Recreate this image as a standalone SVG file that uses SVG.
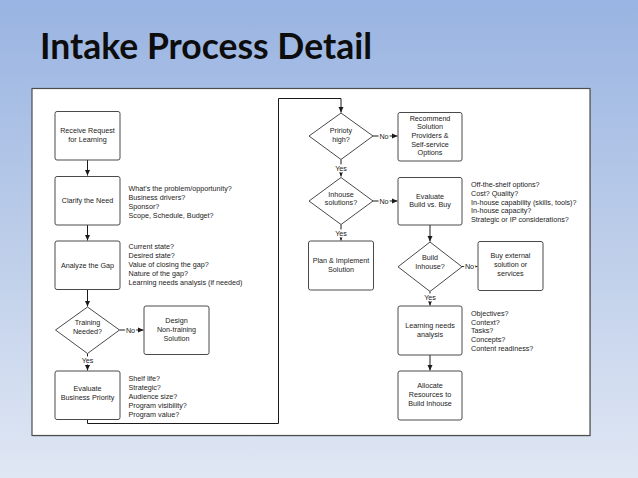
<svg xmlns="http://www.w3.org/2000/svg" width="638" height="478" viewBox="0 0 638 478">
<defs>
<linearGradient id="bg" x1="0" y1="0" x2="0" y2="1">
<stop offset="0" stop-color="#99b4e2"/>
<stop offset="0.5" stop-color="#bccde9"/>
<stop offset="1" stop-color="#e0e7f4"/>
</linearGradient>
<marker id="ah" markerUnits="userSpaceOnUse" markerWidth="6" markerHeight="6" refX="5.5" refY="3" orient="auto">
<path d="M0,0.5 L5.5,3 L0,5.5 z" fill="#1a1a1a"/>
</marker>
<style>
.box{fill:#fff;stroke:#4a4a4a;stroke-width:1}
.t{font-family:"Liberation Sans",Arial,sans-serif;font-size:7.2px;fill:#222}
.c{text-anchor:middle}
.lbl{font-family:"Liberation Sans",Arial,sans-serif;font-size:7.2px;fill:#222;text-anchor:middle;stroke:#fff;stroke-width:3;paint-order:stroke}
.ln{fill:none;stroke:#1a1a1a;stroke-width:1}
</style>
</defs>
<rect x="0" y="0" width="638" height="478" fill="url(#bg)"/>
<text x="40" y="59" font-family="Lato,'Open Sans',sans-serif" font-weight="bold" font-size="36" fill="#0d0d0d" textLength="332" lengthAdjust="spacingAndGlyphs">Intake Process Detail</text>
<rect x="33" y="89.5" width="558" height="347" fill="#8a8fa0" opacity="0.35"/>
<rect x="32" y="88.5" width="558" height="347" fill="#fff" stroke="#4d4d4d" stroke-width="1.2"/>

<g id="connectors">
<path class="ln" d="M87.5,160 V175.5" marker-end="url(#ah)"/>
<path class="ln" d="M87.5,225 V240.5" marker-end="url(#ah)"/>
<path class="ln" d="M87.5,289.5 V306.5" marker-end="url(#ah)"/>
<path class="ln" d="M119.5,330 H143.5" marker-end="url(#ah)"/>
<path class="ln" d="M87.5,353.5 V370.5" marker-end="url(#ah)"/>
<path class="ln" d="M87.5,419.5 V423.5 H278.5 V98.5 H341 V112.5" marker-end="url(#ah)"/>
<path class="ln" d="M373,136 H397.5" marker-end="url(#ah)"/>
<path class="ln" d="M341,159.5 V176.5" marker-end="url(#ah)"/>
<path class="ln" d="M373,201 H397.5" marker-end="url(#ah)"/>
<path class="ln" d="M341,224.5 V240.5" marker-end="url(#ah)"/>
<path class="ln" d="M430,225 V241.5" marker-end="url(#ah)"/>
<path class="ln" d="M462,266.5 H477.5" marker-end="url(#ah)"/>
<path class="ln" d="M430,291.5 V305.5" marker-end="url(#ah)"/>
<path class="ln" d="M430,355 V370.5" marker-end="url(#ah)"/>
<text class="lbl" x="130.5" y="332.5">No</text>
<text class="lbl" x="87.5" y="363">Yes</text>
<text class="lbl" x="384" y="138.5">No</text>
<text class="lbl" x="341" y="170.5">Yes</text>
<text class="lbl" x="384" y="203.5">No</text>
<text class="lbl" x="341" y="235.5">Yes</text>
<text class="lbl" x="469.5" y="269">No</text>
<text class="lbl" x="430" y="299.5">Yes</text>
</g>

<g id="receive">
<rect class="box" x="55" y="111.5" width="65" height="48.5" rx="2"/>
<text class="t c" x="87.5" y="133">Receive Request</text>
<text class="t c" x="87.5" y="142">for Learning</text>
</g>
<g id="clarify">
<rect class="box" x="55" y="176.5" width="65" height="48.5" rx="2"/>
<text class="t c" x="87.5" y="202.5">Clarify the Need</text>
<text class="t" x="128.5" y="190.5">What's the problem/opportunity?</text>
<text class="t" x="128.5" y="199.5">Business drivers?</text>
<text class="t" x="128.5" y="208.5">Sponsor?</text>
<text class="t" x="128.5" y="217.5">Scope, Schedule, Budget?</text>
</g>
<g id="analyze">
<rect class="box" x="55" y="241" width="65" height="48.5" rx="2"/>
<text class="t c" x="87.5" y="267.5">Analyze the Gap</text>
<text class="t" x="128.5" y="248.5">Current state?</text>
<text class="t" x="128.5" y="257.5">Desired state?</text>
<text class="t" x="128.5" y="266.5">Value of closing the gap?</text>
<text class="t" x="128.5" y="275.5">Nature of the gap?</text>
<text class="t" x="128.5" y="284.5">Learning needs analysis (if needed)</text>
</g>
<g id="training">
<polygon class="box" points="87.5,307 119.5,330 87.5,353.5 55.5,330"/>
<text class="t c" x="87.5" y="324.5">Training</text>
<text class="t c" x="87.5" y="333.5">Needed?</text>
</g>
<g id="design">
<rect class="box" x="144" y="306" width="65" height="48.5" rx="2"/>
<text class="t c" x="176.5" y="322.5">Design</text>
<text class="t c" x="176.5" y="331.5">Non-training</text>
<text class="t c" x="176.5" y="340.5">Solution</text>
</g>
<g id="evaluate-priority">
<rect class="box" x="55" y="371" width="65" height="48.5" rx="2"/>
<text class="t c" x="87.5" y="390.5">Evaluate</text>
<text class="t c" x="87.5" y="399.5">Business Priority</text>
<text class="t" x="128.5" y="380.5">Shelf life?</text>
<text class="t" x="128.5" y="389.5">Strategic?</text>
<text class="t" x="128.5" y="398.5">Audience size?</text>
<text class="t" x="128.5" y="407.5">Program visibility?</text>
<text class="t" x="128.5" y="416.5">Program value?</text>
</g>

<g id="priority">
<polygon class="box" points="341,113 373,136 341,159.5 309,136"/>
<text class="t c" x="341" y="133">Pririoty</text>
<text class="t c" x="341" y="142">high?</text>
</g>
<g id="recommend">
<rect class="box" x="398" y="112.5" width="64" height="48.5" rx="2"/>
<text class="t c" x="430" y="120.5">Recommend</text>
<text class="t c" x="430" y="129.2">Solution</text>
<text class="t c" x="430" y="137.9">Providers &amp;</text>
<text class="t c" x="430" y="146.6">Self-service</text>
<text class="t c" x="430" y="155.3">Options</text>
</g>
<g id="inhouse">
<polygon class="box" points="341,177.5 373,201 341,224.5 309,201"/>
<text class="t c" x="341" y="196.5">Inhouse</text>
<text class="t c" x="341" y="205">solutions?</text>
</g>
<g id="evaluate-build">
<rect class="box" x="398" y="177.5" width="64" height="47.5" rx="2"/>
<text class="t c" x="430" y="198.8">Evaluate</text>
<text class="t c" x="430" y="207.2">Build vs. Buy</text>
<text class="t" x="471" y="187.2">Off-the-shelf options?</text>
<text class="t" x="471" y="195.8">Cost? Quality?</text>
<text class="t" x="471" y="204.5">In-house capability (skills, tools)?</text>
<text class="t" x="471" y="213.2">In-house capacity?</text>
<text class="t" x="471" y="221.8">Strategic or IP considerations?</text>
</g>
<g id="plan">
<rect class="box" x="308.5" y="241" width="65" height="49" rx="2"/>
<text class="t c" x="341" y="263.2">Plan &amp; Implement</text>
<text class="t c" x="341" y="272.2">Solution</text>
</g>
<g id="build">
<polygon class="box" points="430,242 462,266.8 430,291.5 398,266.8"/>
<text class="t c" x="430" y="259.8">Build</text>
<text class="t c" x="430" y="269.2">Inhouse?</text>
</g>
<g id="buy">
<rect class="box" x="478" y="241.5" width="65" height="49" rx="2"/>
<text class="t c" x="510.5" y="258.2">Buy external</text>
<text class="t c" x="510.5" y="266.8">solution or</text>
<text class="t c" x="510.5" y="275.8">services</text>
</g>
<g id="learning">
<rect class="box" x="398" y="306" width="64" height="49" rx="2"/>
<text class="t c" x="430" y="327.8">Learning needs</text>
<text class="t c" x="430" y="336.5">analysis</text>
<text class="t" x="471" y="315.8">Objectives?</text>
<text class="t" x="471" y="324.5">Context?</text>
<text class="t" x="471" y="333.2">Tasks?</text>
<text class="t" x="471" y="341.8">Concepts?</text>
<text class="t" x="471" y="350.8">Content readiness?</text>
</g>
<g id="allocate">
<rect class="box" x="398" y="371" width="64" height="49" rx="2"/>
<text class="t c" x="430" y="388.2">Allocate</text>
<text class="t c" x="430" y="396.8">Resources to</text>
<text class="t c" x="430" y="405.8">Build Inhouse</text>
</g>
</svg>
